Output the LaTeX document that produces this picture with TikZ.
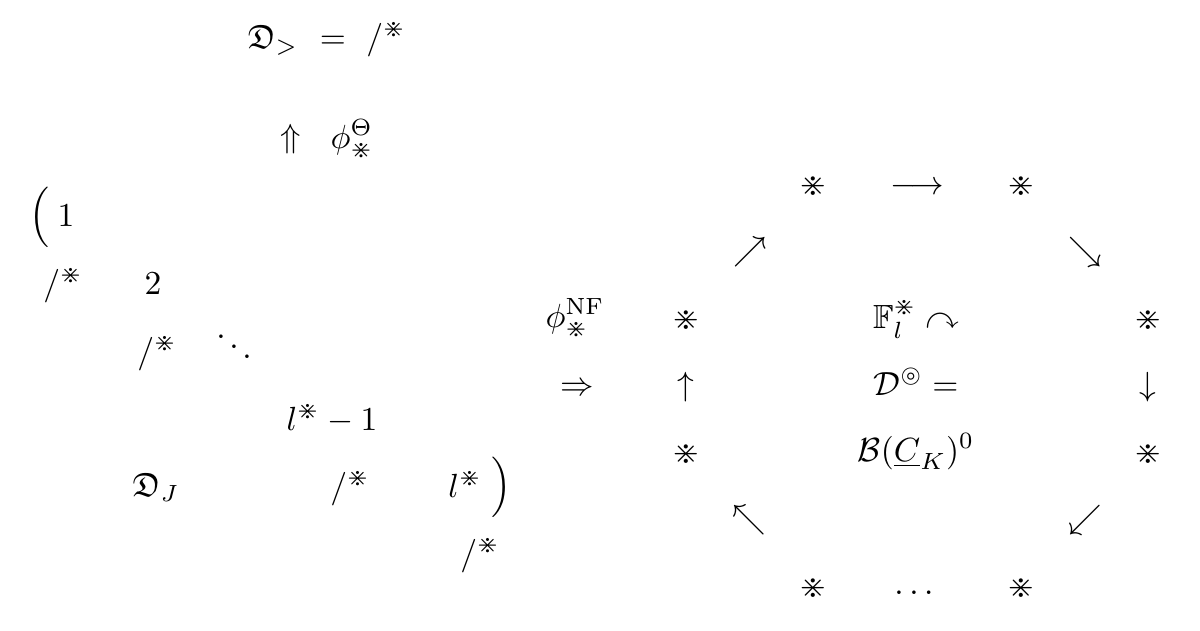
\documentclass[tikz,border=0pt]{standalone}
\usepackage{amsmath,amssymb}
\begin{document}
\begin{tikzpicture}[x=0.2985pt,y=-0.2985pt,
  m/.style={inner sep=0pt,outer sep=0pt,anchor=base}]
\useasboundingbox (0,0) rectangle (1200,630);
% top
\node[m] (dgt) at (273,48) {$\mathfrak{D}_{>}$};
\node[m] (eqt) at (333,48) {$=$};
\node[m] (slt) at (386,48) {$/^{\divideontimes}$};
\node[m] (upa) at (291,147) {$\Uparrow$};
\node[m] (phit) at (352,148) {$\phi^{\Theta}_{\divideontimes}$};
% left matrix
\node[m] (lp) at (40,226) {$\Big($};
\node[m] (a11) at (66,226) {$1$};
\node[m] (a21) at (63,294) {$/^{\divideontimes}$};
\node[m] (a22) at (153,294) {$2$};
\node[m] (a32) at (157,362) {$/^{\divideontimes}$};
\node[m] (a33) at (234,362) {$\ddots$};
\node[m] (a44) at (332,430) {$l^{\divideontimes}-1$};
\node[m] (a51) at (156,496) {$\mathfrak{D}_{J}$};
\node[m] (a54) at (350,497) {$/^{\divideontimes}$};
\node[m] (a55) at (465,497) {$l^{\divideontimes}$};
\node[m] (rp) at (501,496) {$\Big)$};
\node[m] (a65) at (480,564) {$/^{\divideontimes}$};
% middle
\node[m] (phin) at (575,327) {$\phi^{\mathrm{NF}}_{\divideontimes}$};
\node[m] (rarr) at (577,395) {$\Rightarrow$};
\node[m] (l1) at (686,328) {$\divideontimes$};
\node[m] (l2) at (686,395) {$\uparrow$};
\node[m] (l3) at (686,462) {$\divideontimes$};
% centre
\node[m] (c1) at (916,328) {$\mathbb{F}_l^{\divideontimes}\curvearrowright$};
\node[m] (c2) at (916,395) {$\mathcal{D}^{\circledcirc} =$};
\node[m] (c3) at (916,461) {$\mathcal{B}(\underline{C}_K)^0$};
% right
\node[m] (r1) at (1148,328) {$\divideontimes$};
\node[m] (r2) at (1148,395) {$\downarrow$};
\node[m] (r3) at (1148,462) {$\divideontimes$};
% top of ring
\node[m] (t1) at (813,194) {$\divideontimes$};
\node[m] (t2) at (917,194) {$\longrightarrow$};
\node[m] (t3) at (1021,194) {$\divideontimes$};
\node[m] (ne) at (750,260) {$\nearrow$};
\node[m] (se) at (1085,260) {$\searrow$};
\node[m] (nw) at (749,528) {$\nwarrow$};
\node[m] (sw) at (1085,528) {$\swarrow$};
\node[m] (b1) at (813,596) {$\divideontimes$};
\node[m] (b2) at (914,594) {$\ldots$};
\node[m] (b3) at (1021,596) {$\divideontimes$};
\end{tikzpicture}
\end{document}
